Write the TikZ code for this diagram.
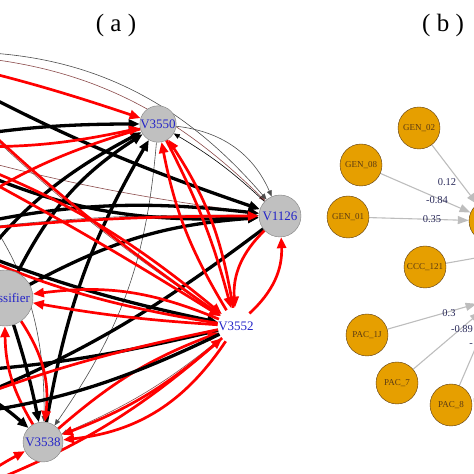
\documentclass[tikz,border=0pt]{standalone}
\usepackage{fontspec}
\setmainfont{Liberation Serif}
\usetikzlibrary{arrows.meta,backgrounds}
\definecolor{vgrey}{HTML}{C0C0C0}
\definecolor{vorange}{HTML}{E69F00}
\definecolor{vbrown}{HTML}{5A3A14}
\definecolor{ebrown}{HTML}{8B4B4B}
\definecolor{elabel}{HTML}{2A2A5A}
\definecolor{egrey}{HTML}{BDBDBD}
\definecolor{vblue}{HTML}{2424C8}

\begin{document}
\begin{tikzpicture}[x=1pt, y=1pt,
  vert/.style={circle, fill=vgrey, draw=gray, inner sep=0pt, text=vblue, font=\fontsize{13}{13}\selectfont},
  gene/.style={circle, fill=vorange, draw=vbrown, inner sep=0pt, minimum size=42, text=vbrown, font=\fontsize{9}{9}\selectfont},
  redarr/.style={red, line width=2.7pt, -{Triangle[length=11pt,width=9pt]}},
  blkarr/.style={black, line width=3.3pt, -{Triangle[length=11pt,width=9pt]}},
  thinarr/.style={ebrown, line width=0.6pt, -{Triangle[length=6pt,width=5pt]}},
  greyarr/.style={egrey, line width=1.1pt, -{Triangle[length=11pt,width=8pt]}},
  wlabel/.style={text=elabel, inner sep=1pt, font=\fontsize{10.5}{10.5}\selectfont}]
\useasboundingbox (0,0) rectangle (474,474);

% titles
\node[font=\fontsize{25}{25}\selectfont] (ta) at (116,449) {( a )};
\node[font=\fontsize{25}{25}\selectfont] (tb) at (443,449) {( b )};

% panel (a): vertices
\node[vert, minimum size=34] (V3550) at (158,350) {V3550};
\node[vert, minimum size=42] (V1126) at (280,258) {V1126};
\node[vert, minimum size=56] (cls) at (5,176) {Classifier};
\node[vert, minimum size=24, fill=none, draw=none] (V3552) at (236,148) {V3552};
\node[vert, minimum size=40] (V3538) at (43,32) {V3538};
% vertices beyond the left border
\coordinate (h1) at (-90,420);
\coordinate (h2) at (-80,330);
\coordinate (h3) at (-70,240);
\coordinate (h4) at (-80,100);
\coordinate (h5) at (-40,-20);
\coordinate (h6) at (-80,55);

\begin{pgfonlayer}{background}
% weak links
\draw[thinarr] (h1) to[bend left=22] (V1126);
\draw[thinarr, black!70] (h1) to[bend left=27] (V1126);
\draw[thinarr, black!70] (V3550) to[bend left=30] (V1126);
\draw[thinarr, black] (V1126) to[bend right=6] (V3550);
\draw[thinarr, black!70] (V3550) to[bend left=15] (V3538);
\draw[thinarr, black!70] (h2) to[bend left=25] (V3538);
\draw[thinarr] (V3552) to[bend left=8] (V3538);
\draw[thinarr] (h2) to[bend right=4] (V1126);
\draw[thinarr, black!70] (h3) to[bend left=4] (V1126);
\draw[thinarr] (h1) to[bend right=6] (V3552);
% black links
\draw[blkarr] (h2) to[bend left=5] (V3550);
\draw[blkarr] (h1) to[bend right=5] (V1126);
\draw[blkarr] (cls) to[bend left=15] (V3550);
\draw[blkarr] (V3538) to[bend left=10] (V3550);
\draw[blkarr] (h4) to[bend left=20] (V3550);
\draw[blkarr] (h3) to[bend left=10] (V1126);
\draw[blkarr] (cls) to[bend left=12] (V1126);
\draw[blkarr] (h2) to[bend right=15] (V1126);
\draw[blkarr] (cls) to[bend left=3] (V3538);
\draw[blkarr] (h4) to[bend left=15] (V3538);
\draw[blkarr] (V3552) to[bend left=5] (h4);
\draw[blkarr] (V1126) to[bend left=8] (h6);
\draw[blkarr] (h3) to[bend right=5] (V3552);
% red links
\draw[redarr] (h1) to[bend left=3] (V3550);
\draw[redarr] (h2) to[bend right=8] (V3550);
\draw[redarr] (V3552) to[bend right=12] (V3550);
\draw[redarr] (V3552) to[bend left=10] (V3550);
\draw[redarr] (V3552) to[bend right=25] (V1126);
\draw[redarr] (V1126) to[bend right=25] (V3552);
\draw[redarr] (V3552) to[bend left=3] (cls);
\draw[redarr] (V3552) to[bend right=15] (cls);
\draw[redarr] (V3552) to[bend left=25] (V3538);
\draw[redarr] (V3552) to[bend left=10] (V3538);
\draw[redarr] (V3552) to[bend left=8] (h3);
\draw[redarr] (h2) to[bend left=10] (V3552);
\draw[redarr] (h2) to[bend left=2] (V3552);
\draw[redarr] (h1) to[bend right=5] (V3552);
\draw[redarr] (V3550) to[bend left=6] (V3552);
\draw[redarr] (h5) to[bend right=10] (V3552);
\draw[redarr] (V3552) to[bend right=5] (h6);
\draw[redarr] (cls) to[bend left=20] (V3538);
\draw[redarr] (V3538) to[bend left=15] (cls);
\draw[redarr] (h5) to[bend left=5] (V3538);
\draw[redarr] (h3) to[bend left=3] (V1126);
\draw[redarr] (V3550) to[bend right=10] (h3);
\draw[redarr] (V3538) to[bend left=10] (V3552);
\draw[blkarr] (V3552) to[bend left=10] (h6);
\end{pgfonlayer}

% panel (b): vertices
\node[gene] (g02) at (419,346) {GEN\_02};
\node[gene] (g08) at (361,309) {GEN\_08};
\node[gene] (g01) at (348,257) {GEN\_01};
\node[gene] (ccc) at (425,207) {CCC\_121};
\node[gene] (p1j) at (367,139) {PAC\_1J};
\node[gene] (p7) at (397,91) {PAC\_7};
\node[gene] (p8) at (451,69) {PAC\_8};
\node[gene] (hub1) at (490,253) {};
\node[gene] (hub2) at (497,176) {};
\node[gene] (hub3) at (495,74) {};
\coordinate (hubc) at (560,231);

\begin{pgfonlayer}{background}
\draw[greyarr] (g02) -- (hub1);
\draw[greyarr] (g08) -- (hub1);
\draw[greyarr] (g01) -- (hub1);
\draw[greyarr] (ccc) -- (hubc);
\draw[greyarr] (p1j) -- (hub2);
\draw[greyarr] (p7) -- (hub2);
\draw[greyarr] (p8) -- (hub2);
\end{pgfonlayer}

% weights
\node[wlabel] (w1) at (447,292) {0.12};
\node[wlabel] (w2) at (437,274) {-0.84};
\node[wlabel] (w3) at (432,255) {0.35};
\node[wlabel] (w4) at (449,161) {0.3};
\node[wlabel] (w5) at (462,145) {-0.89};
\node[wlabel, anchor=east] (w6) at (474,129) {-};
\end{tikzpicture}
\end{document}
